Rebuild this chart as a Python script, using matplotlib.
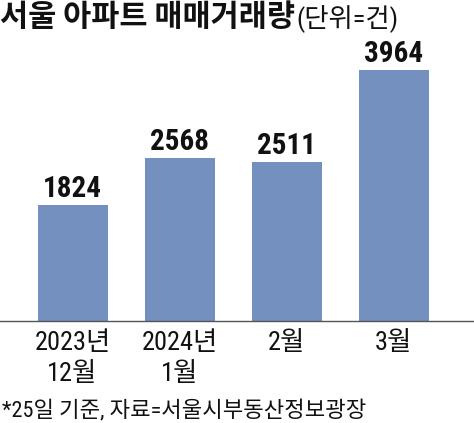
import matplotlib
matplotlib.use("Agg")
import matplotlib.pyplot as plt
from matplotlib import font_manager as fm

categories = ["2023년\n12월", "2024년\n1월", "2월", "3월"]
values = [1824, 2568, 2511, 3964]
title_main = "서울 아파트 매매거래량"
title_unit = "(단위=건)"
footnote = "*25일 기준, 자료=서울시부동산정보광장"

names = {f.name for f in fm.fontManager.ttflist}
narrow = None
for cand in ["Liberation Sans Narrow", "DejaVu Sans Condensed", "Roboto Condensed",
             "Open Sans Condensed"]:
    if cand in names:
        narrow = cand
        break
if narrow is None:
    for f in fm.fontManager.ttflist:
        if "condensed" in str(f.stretch).lower() or "Condensed" in f.fname or "Narrow" in f.fname:
            narrow = f.name
            break
if narrow is None:
    narrow = "Roboto"
NARROW = [narrow, "Noto Sans CJK KR", "DejaVu Sans"]
CJK = ["Noto Sans CJK KR", "DejaVu Sans"]

W, H = 474, 423
fig = plt.figure(figsize=(W / 100, H / 100), dpi=100)
fig.patch.set_facecolor("white")

base_px = 321
top_px = 40
ax = fig.add_axes([0, (H - base_px) / H, 1, (base_px - top_px) / H])
spacing = 107.0
left = -72.5 / spacing
ax.set_xlim(left, left + W / spacing)
ax.set_ylim(0, (base_px - top_px) / 0.0634)

x = list(range(len(values)))
bars = ax.bar(x, values, width=70 / spacing, color="#7490be", zorder=2)
for xi, v in zip(x, values):
    ax.annotate(f"{v}", (xi, v), xytext=(0, 1.5), textcoords="offset points",
                ha="center", va="bottom", fontsize=21, fontweight="bold",
                family=NARROW, color="#111111")

for s in ["top", "right", "left"]:
    ax.spines[s].set_visible(False)
ax.spines["bottom"].set_color("#555555")
ax.spines["bottom"].set_linewidth(1.0)
ax.set_yticks([])
ax.set_xticks(x)
ax.set_xticklabels(categories, fontsize=19, family=NARROW, color="#111111",
                   linespacing=1.4)
ax.tick_params(axis="x", length=0, pad=7)

t = fig.text(0, 1 - 17 / H, title_main, fontsize=22, fontweight="bold",
             family=CJK, ha="left", va="center", color="#111111")
fig.canvas.draw()
bb = t.get_window_extent()
fig.text(bb.x1 / W + 0.002, 1 - 18 / H, title_unit, fontsize=19, family=NARROW,
         ha="left", va="center", color="#111111")
fig.text(2 / W, 1 - 411 / H, footnote, fontsize=16, family=NARROW,
         ha="left", va="center", color="#111111")

fig.savefig("out.png", dpi=100, facecolor="white")
